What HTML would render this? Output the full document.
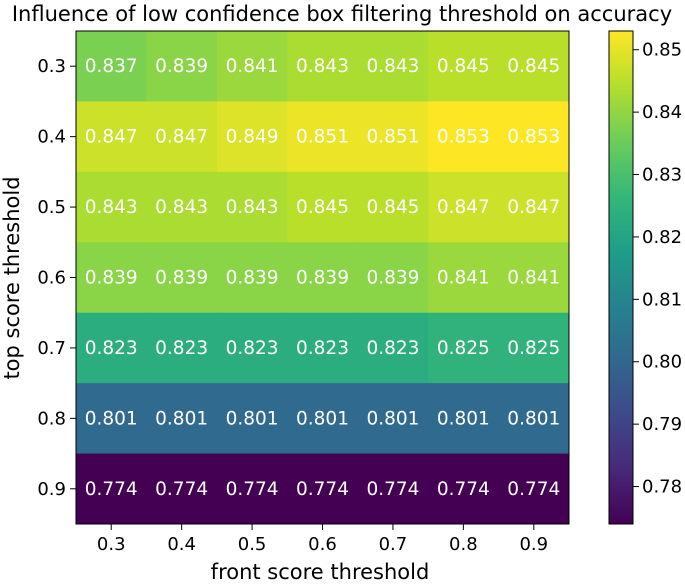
<!DOCTYPE html>
<html><head><meta charset="utf-8"><style>
body{margin:0;background:#fff;font-family:"DejaVu Sans","Liberation Sans",sans-serif;}
svg text{font-family:"DejaVu Sans","Liberation Sans",sans-serif;}
</style></head><body>
<svg id="chart" width="685" height="583" xmlns="http://www.w3.org/2000/svg">
<text x="342" y="21" text-anchor="middle" font-size="21" fill="#000">Influence of low confidence box filtering threshold on accuracy</text>
<g id="cells"></g>
<g id="cbar"></g>
<text x="320" y="579" text-anchor="middle" font-size="21">front score threshold</text>
<text transform="translate(19,278) rotate(-90)" text-anchor="middle" font-size="21">top score threshold</text>
</svg>
<script>
const xLabels=["0.3","0.4","0.5","0.6","0.7","0.8","0.9"];
const yLabels=["0.3","0.4","0.5","0.6","0.7","0.8","0.9"];
const row03=[0.837,0.839,0.841,0.843,0.843,0.845,0.845];
const row04=[0.847,0.847,0.849,0.851,0.851,0.853,0.853];
const row05=[0.843,0.843,0.843,0.845,0.845,0.847,0.847];
const row06=[0.839,0.839,0.839,0.839,0.839,0.841,0.841];
const row07=[0.823,0.823,0.823,0.823,0.823,0.825,0.825];
const row08=[0.801,0.801,0.801,0.801,0.801,0.801,0.801];
const row09=[0.774,0.774,0.774,0.774,0.774,0.774,0.774];
const cbTicks=[0.78,0.79,0.80,0.81,0.82,0.83,0.84,0.85];
const rows=[row03,row04,row05,row06,row07,row08,row09];
const NS="http://www.w3.org/2000/svg";
const L=76,T=31,R=569,B=524,CBL=609,CBR=633;
const all=rows.flat();const vmin=Math.min(...all),vmax=Math.max(...all);
const stops=[[68,1,84],[72,40,120],[62,74,137],[49,104,142],[38,130,142],[31,158,137],[53,183,121],[109,205,89],[180,222,44],[253,231,37]];
function viridis(t){t=Math.max(0,Math.min(1,t));const p=t*(stops.length-1);const i=Math.min(Math.floor(p),stops.length-2);const f=p-i;const a=stops[i],b=stops[i+1];return `rgb(${a.map((v,k)=>Math.round(v+(b[k]-v)*f)).join(',')})`;}
const norm=v=>(v-vmin)/(vmax-vmin);
const cw=(R-L)/xLabels.length,ch=(B-T)/yLabels.length;
const xs=i=>L+i*cw,ys=j=>T+j*ch;
function el(tag,attrs,parent){const e=document.createElementNS(NS,tag);for(const k in attrs)e.setAttribute(k,attrs[k]);parent.appendChild(e);return e;}
const g=document.getElementById('cells');
rows.forEach((row,j)=>row.forEach((v,i)=>{
 const r=el('rect',{x:xs(i),y:ys(j),width:cw+0.5,height:ch+0.5,fill:viridis(norm(v))},g);
 
 
 const t=el('text',{x:xs(i)+cw/2,y:ys(j)+ch/2+6,'text-anchor':'middle','font-size':'18.5',fill:'#fff'},g);
 t.textContent=v.toFixed(3);
 
 
}));
el('rect',{x:L,y:T,width:R-L,height:B-T,fill:'none',stroke:'#000','stroke-width':1},g);
xLabels.forEach((lb,i)=>{const x=xs(i)+cw/2;el('line',{x1:x,x2:x,y1:B,y2:B+6,stroke:'#000'},g);
 const t=el('text',{x:x,y:B+26,'text-anchor':'middle','font-size':'18'},g);t.textContent=lb;
 
 });
yLabels.forEach((lb,j)=>{const y=ys(j)+ch/2;el('line',{x1:L-6,x2:L,y1:y,y2:y,stroke:'#000'},g);
 const t=el('text',{x:L-10,y:y+6,'text-anchor':'end','font-size':'18'},g);t.textContent=lb;
 
 });
const cb=document.getElementById('cbar');
const defs=el('defs',{},cb);const lg=el('linearGradient',{id:'vg',x1:0,y1:1,x2:0,y2:0},defs);
stops.forEach((s,k)=>el('stop',{offset:k/(stops.length-1),'stop-color':`rgb(${s.join(',')})`},lg));
const cr=el('rect',{x:CBL,y:T,width:CBR-CBL,height:B-T,fill:'url(#vg)',stroke:'#000'},cb);


const cy=v=>B-norm(v)*(B-T);
cbTicks.forEach(v=>{const y=cy(v);el('line',{x1:CBR,x2:CBR+6,y1:y,y2:y,stroke:'#000'},cb);
 const t=el('text',{x:CBR+9,y:y+6,'font-size':'18'},cb);t.textContent=v.toFixed(2);
 
 });
</script>
</body></html>
